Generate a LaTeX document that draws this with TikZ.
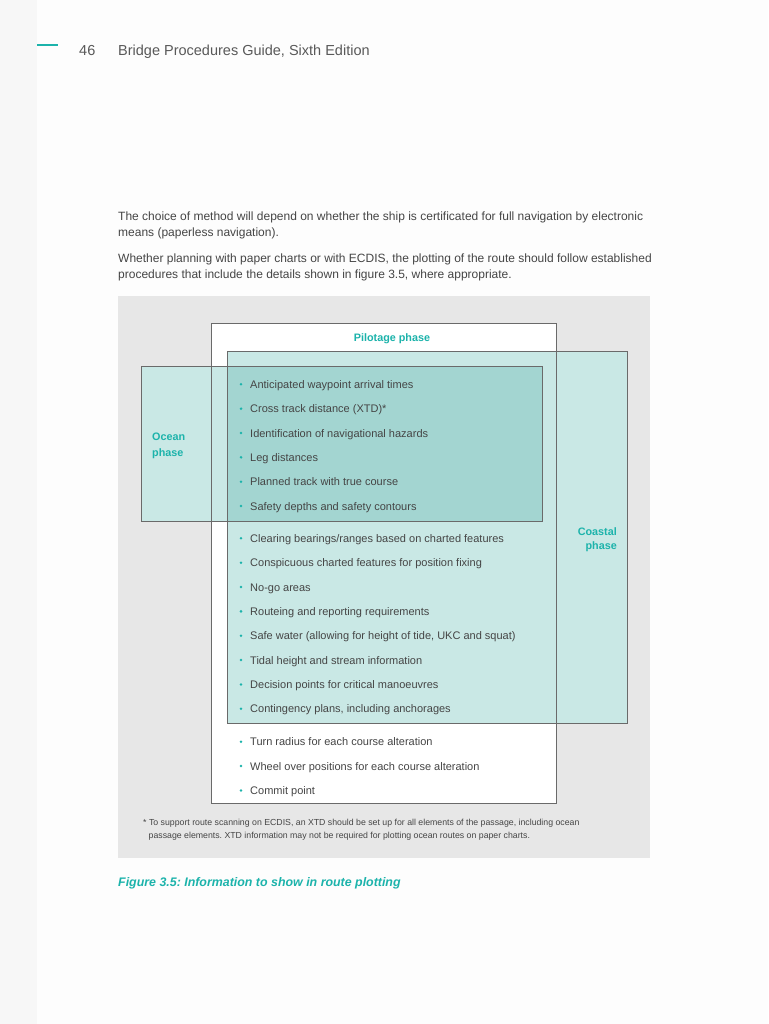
\documentclass[tikz,border=0pt]{standalone}
\usepackage{fontspec}
\setmainfont{Liberation Sans}
\frenchspacing
\definecolor{tealink}{HTML}{1CB3AB}
\definecolor{coastfill}{HTML}{C9E8E5}
\definecolor{overlapfill}{HTML}{A3D5D1}
\definecolor{panelgray}{HTML}{E7E7E7}
\definecolor{boxline}{HTML}{6A6A6A}
\definecolor{bodytext}{HTML}{454545}
\definecolor{pagebg}{HTML}{FDFDFD}
\definecolor{marginbg}{HTML}{F7F7F7}

\begin{document}
\begin{tikzpicture}[x=1pt, y=-1pt,
  every node/.style={inner sep=0pt, anchor=base west, text=bodytext},
  bodyline/.style={font=\fontsize{12}{14}\selectfont},
  listitem/.style={font=\fontsize{11}{13}\selectfont},
  footline/.style={font=\fontsize{8.75}{10}\selectfont},
  phaselabel/.style={font=\fontsize{10.8}{13}\selectfont\bfseries, text=tealink},
  boxedge/.style={draw=boxline, line width=1pt},
  dot/.style={circle, fill=tealink, minimum size=2.8pt, inner sep=0pt, anchor=center}]

% page
\fill[pagebg] (0,0) rectangle (768,1024);
\fill[marginbg] (0,0) rectangle (37,1024);
\useasboundingbox (0,0) rectangle (768,1024);

% header
\coordinate (rule1) at (37,45);
\coordinate (rule2) at (58,45);
\draw[tealink, line width=1.6pt] (rule1) -- (rule2);
\node[font=\fontsize{14.5}{17}\selectfont, text=black!65] (pagenum) at (79,55.5) {46};
\node[font=\fontsize{14.5}{17}\selectfont, text=black!65] (runhead) at (118,55.5) {Bridge Procedures Guide, Sixth Edition};

% intro text
\node[bodyline] (intro1) at (118,220.5) {The choice of method will depend on whether the ship is certificated for full navigation by electronic};
\node[bodyline] (intro2) at (118,236.5) {means (paperless navigation).};
\node[bodyline] (intro3) at (118,262.5) {Whether planning with paper charts or with ECDIS, the plotting of the route should follow established};
\node[bodyline] (intro4) at (118,278.5) {procedures that include the details shown in figure 3.5, where appropriate.};

% grey panel and phase boxes
\fill[panelgray] (118,296) rectangle (650,858);
\fill[white] (211,323) rectangle (556,803);
\fill[coastfill] (227,351) rectangle (627,723);
\fill[coastfill] (141,366) rectangle (542,521);
\fill[overlapfill] (227,366) rectangle (542,521);
\draw[boxedge] (211,323) rectangle (556,803);
\draw[boxedge] (227,351) rectangle (627,723);
\draw[boxedge] (141,366) rectangle (542,521);

% phase labels
\node[phaselabel, anchor=base] (pilotage) at (392,341.5) {Pilotage phase};
\node[phaselabel] (ocean1) at (152,440.5) {Ocean};
\node[phaselabel] (ocean2) at (152,456) {phase};
\node[phaselabel, anchor=base east] (coastal1) at (617,535) {Coastal};
\node[phaselabel, anchor=base east] (coastal2) at (617,549.5) {phase};

% ocean, coastal and pilotage items
\foreach \txt [count=\i from 0] in {Anticipated waypoint arrival times, Cross track distance (XTD)*,
    Identification of navigational hazards, Leg distances, Planned track with true course,
    Safety depths and safety contours} {
  \node[dot] (oceandot\i) at (241,384.3+24.35*\i) {};
  \node[listitem] (oceanitem\i) at (250,388.3+24.35*\i) {\txt};
}
\foreach \txt [count=\i from 0] in {Clearing bearings/ranges based on charted features,
    Conspicuous charted features for position fixing, No-go areas,
    Routeing and reporting requirements, {Safe water (allowing for height of tide, UKC and squat)},
    Tidal height and stream information, Decision points for critical manoeuvres,
    {Contingency plans, including anchorages}} {
  \node[dot] (coastdot\i) at (241,538.3+24.35*\i) {};
  \node[listitem] (coastitem\i) at (250,542.3+24.35*\i) {\txt};
}
\foreach \txt [count=\i from 0] in {Turn radius for each course alteration,
    Wheel over positions for each course alteration, Commit point} {
  \node[dot] (pilotdot\i) at (241,741.7+24.35*\i) {};
  \node[listitem] (pilotitem\i) at (250,745.7+24.35*\i) {\txt};
}

% footnote and caption
\node[footline] (note1) at (143,825) {* To support route scanning on ECDIS, an XTD should be set up for all elements of the passage, including ocean};
\node[footline] (note2) at (148.5,838.5) {passage elements. XTD information may not be required for plotting ocean routes on paper charts.};
\node[font=\fontsize{12.4}{14}\selectfont\bfseries\itshape, text=tealink] (caption) at (118,886) {Figure 3.5: Information to show in route plotting};
\end{tikzpicture}
\end{document}
